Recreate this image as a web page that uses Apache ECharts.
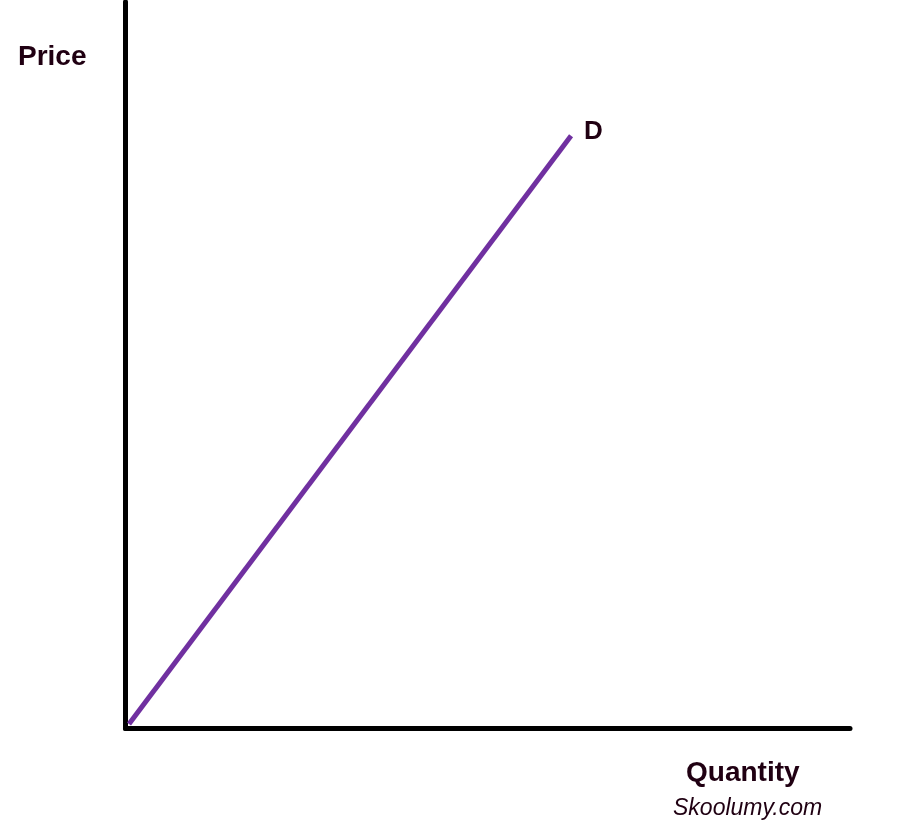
<!DOCTYPE html>
<html><head><meta charset="utf-8">
<script src="https://cdn.jsdelivr.net/npm/echarts@6/dist/echarts.min.js"></script>
<style>html,body{margin:0;padding:0;background:#fff}#c{width:919px;height:835px}</style>
</head><body><div id="c"></div>
<script>
var demandX = [0.48, 61.5];
var demandY = [0.62, 81.6];
var curveLabel = 'D';
var yAxisTitle = 'Price';
var xAxisTitle = 'Quantity';
var credit = 'Skoolumy.com';

var textColor = '#200012';
var chart = echarts.init(document.getElementById('c'), null, {renderer: 'canvas'});
chart.setOption({
  animation: false,
  backgroundColor: '#ffffff',
  grid: {left: 125.5, right: 69, top: 2, bottom: 106.5},
  xAxis: {type: 'value', min: 0, max: 100, axisLine: {show: true, onZero: false, lineStyle: {color: '#000', width: 5}},
    axisTick: {show: false}, axisLabel: {show: false}, splitLine: {show: false}},
  yAxis: {type: 'value', min: 0, max: 100, axisLine: {show: true, onZero: false, lineStyle: {color: '#000', width: 5}},
    axisTick: {show: false}, axisLabel: {show: false}, splitLine: {show: false}},
  series: [{
    type: 'line',
    data: demandX.map(function (x, i) { return [x, demandY[i]]; }),
    showSymbol: false,
    lineStyle: {color: '#7030a0', width: 5, cap: 'butt'},
    endLabel: {show: true, formatter: curveLabel, color: textColor, fontFamily: 'Liberation Sans', fontWeight: 'bold', fontSize: 26, distance: 13, offset: [0, -4]}
  }],
  graphic: [
    {type: 'text', left: 18, top: 43, style: {text: yAxisTitle, fill: textColor, font: 'bold 28px "Liberation Sans"'}},
    {type: 'text', left: 686, top: 759, style: {text: xAxisTitle, fill: textColor, font: 'bold 28px "Liberation Sans"'}},
    {type: 'text', left: 673, top: 797, style: {text: credit, fill: textColor, font: 'italic 23px "Liberation Sans"'}}
  ]
});
</script></body></html>
